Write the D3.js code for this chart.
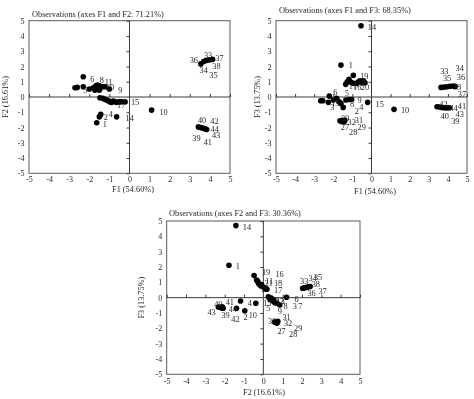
<!DOCTYPE html>
<html>
<head>
<meta charset="utf-8">
<script src="https://cdn.jsdelivr.net/npm/d3@7"></script>
<style>
  body { margin: 0; background: #fff; }
  svg { transform: translateZ(0); }
  svg text { font-family: "Liberation Serif", "DejaVu Serif", serif; fill: #231f20; -webkit-font-smoothing: antialiased; }
</style>
</head>
<body>
<svg id="chart" width="474" height="399"></svg>
<script>
// tick values shared by every axis
const ticks = [-5, -4, -3, -2, -1, 0, 1, 2, 3, 4, 5];

const titles = [
	'Observations (axes F1 and F2: 71.21%)',
	'Observations (axes F1 and F3: 68.35%)',
	'Observations (axes F2 and F3: 30.36%)',
];
const axisNames = ['F1 (54.60%)', 'F2 (16.61%)', 'F3 (13.75%)'];

// [label, F1, F2]
const obsF1F2 = [
	['6', -2.30, 1.33], ['3', -2.71, 0.60], ['7', -2.60, 0.63], ['5', -2.30, 0.67],
	['13', -2.00, 0.52], ['12', -1.80, 0.60], ['8', -1.67, 0.74], ['18', -1.60, 0.78],
	['16', -1.50, 0.74], ['19', -1.72, 0.45], ['11', -1.33, 0.67], ['20', -1.22, 0.67],
	['21', -1.50, 0.45], ['9', -1.00, 0.52],
	['22', -1.47, -0.05], ['23', -1.33, -0.09], ['24', -1.22, -0.16], ['25', -1.13, -0.20],
	['26', -1.05, -0.25], ['27', -0.97, -0.32], ['28', -0.89, -0.35], ['29', -0.81, -0.27],
	['30', -0.72, -0.32], ['31', -0.64, -0.35], ['17', -0.51, -0.32], ['32', -0.39, -0.32],
	['15', -0.22, -0.32],
	['4', -1.43, -1.14], ['2', -1.50, -1.30], ['1', -1.63, -1.69], ['14', -0.64, -1.30],
	['10', 1.10, -0.86],
	['36', 3.55, 2.17], ['34', 3.69, 2.33], ['33', 3.81, 2.39], ['35', 3.93, 2.42],
	['38', 4.03, 2.44], ['37', 4.13, 2.47],
	['39', 3.43, -1.96], ['40', 3.51, -2.00], ['41', 3.60, -2.02], ['42', 3.68, -2.05],
	['43', 3.76, -2.09], ['44', 3.84, -2.13],
];

// [label, F1, F3]
const obsF1F3 = [
	['1', -1.60, 2.09], ['14', -0.55, 4.67],
	['19', -0.95, 1.42], ['21', -1.18, 1.16], ['22', -1.27, 1.00], ['23', -1.35, 0.83],
	['24', -1.07, 0.96], ['25', -0.95, 0.89], ['17', -0.77, 0.89], ['16', -0.69, 1.00],
	['26', -0.60, 1.06], ['18', -0.43, 1.06], ['20', -0.34, 0.93], ['11', -0.51, 0.91],
	['12', -2.66, -0.25], ['7', -2.55, -0.25], ['6', -2.21, 0.06], ['3', -2.26, -0.35],
	['13', -2.00, -0.20], ['', -1.82, -0.09], ['', -1.70, -0.32], ['2', -1.60, -0.42],
	['4', -1.48, -0.68], ['5', -1.34, -0.20], ['8', -1.18, -0.16], ['9', -1.04, -0.16],
	['15', -0.20, -0.35], ['10', 1.18, -0.81],
	['27', -1.65, -1.56], ['32', -1.56, -1.60], ['28', -1.48, -1.56], ['31', -1.39, -1.52],
	['30', -1.54, -1.52], ['29', -1.44, -1.63],
	['35', 3.64, 0.63], ['33', 3.80, 0.65], ['34', 3.95, 0.67], ['36', 4.11, 0.70],
	['38', 4.27, 0.72], ['37', 4.37, 0.70],
	['40', 3.43, -0.64], ['42', 3.56, -0.66], ['39', 3.69, -0.68], ['44', 3.82, -0.70],
	['43', 3.95, -0.71], ['41', 4.08, -0.71],
];

// [label, F2, F3]
const obsF2F3 = [
	['14', -1.42, 4.70], ['1', -1.78, 2.11],
	['19', -0.48, 1.44], ['16', -0.35, 1.15], ['11', -0.27, 1.00], ['18', -0.22, 0.87],
	['21', -0.14, 0.78], ['17', -0.04, 0.72], ['22', 0.08, 0.61], ['20', 0.17, 0.55],
	['23', -0.31, 1.09], ['24', -0.10, 0.86],
	['15', 0.26, 0.05], ['5', 0.34, -0.10], ['7', 0.41, -0.02], ['13', 0.48, -0.20],
	['12', 0.54, -0.15], ['3', 0.59, -0.33], ['9', 0.71, -0.37], ['8', 0.85, -0.48],
	['6', 1.20, 0.03],
	['30', 0.59, -1.59], ['31', 0.75, -1.55], ['32', 0.71, -1.63], ['29', 0.65, -1.57],
	['27', 0.62, -1.62], ['28', 0.70, -1.65],
	['33', 2.03, 0.61], ['34', 2.11, 0.63], ['35', 2.18, 0.66], ['38', 2.26, 0.68],
	['36', 2.34, 0.71], ['37', 2.42, 0.73],
	['40', -2.33, -0.61], ['43', -2.25, -0.63], ['39', -2.16, -0.67], ['41', -2.13, -0.59],
	['44', -2.08, -0.69], ['42', -1.39, -0.69],
	['2', -1.18, -0.22], ['10', -0.96, -0.85], ['4', -0.39, -0.37],
];

// where each visible label sits relative to its dot, in px (others are hidden in the clutter)
const nudgeF1F2 = {
	6: [9, 2], 5: [2, 3.5], 8: [6, -6], 11: [6, -4.5], 20: [5, 0], 9: [11, 1],
	17: [2, 3], 15: [10, 0], 4: [10, -0.3], 2: [6.5, 0], 1: [8, 1.5], 14: [13, 1], 10: [12, 2],
	36: [-7, -4], 34: [0, 9], 33: [2, -5.5], 35: [5, 15], 38: [6, 6], 37: [7, -1],
	39: [-2, 11], 40: [2, -7], 41: [6, 14], 42: [11, -7], 43: [11, 6.5], 44: [8, 0],
};
const nudgeF1F3 = {
	1: [10, 0], 14: [11, 1], 19: [11, 1], 16: [-1, 5], 18: [-2, 0], 20: [0, 4], 17: [-4, 3],
	6: [6, -4], 5: [1, -7], 9: [8, 1], 8: [3, 5], 3: [4, 5], 13: [2, 3], 4: [18, 0], 2: [16, 8],
	15: [12, 2], 10: [11, 1],
	30: [3, -2.5], 27: [5, 6], 32: [10, 0.5], 31: [14, 0], 28: [10, 11], 29: [17.7, 5.6],
	35: [6, -9.6], 33: [0.3, -16], 34: [12.7, -19], 36: [11, -9.6], 38: [4, 1.3], 37: [7, 8],
	40: [7.7, 9], 42: [4, -2.5], 39: [13.3, 13.4], 44: [9.2, 0.8], 43: [12.7, 6.6], 41: [12.5, -1.7],
};
const nudgeF2F3 = {
	14: [11, 1.6], 1: [9, 1], 19: [12, -3], 16: [23, -5.7], 11: [11, -1], 18: [19, -1.6],
	21: [8, -3], 17: [15.6, 3.3], 20: [-1, 0],
	15: [-1, 6], 5: [-1.7, 9], 13: [8, 0], 12: [6, 0.7], 3: [20, 3], 7: [29, 7.7], 9: [2.7, 7.4],
	8: [5.7, 1], 6: [10, 1.7],
	30: [-2.7, -1], 31: [8.7, -4.8], 32: [11, 0.6], 29: [22.3, 6.6], 27: [6.2, 8.2], 28: [16.3, 11.3],
	33: [1.6, -7.6], 34: [8.5, -9.7], 35: [12.6, -10.3], 38: [8.8, -2.9], 36: [3, 6.5], 37: [12.5, 4.2],
	40: [0, -2.5], 43: [-8.3, 5], 39: [4, 7], 41: [7.7, -4.4], 44: [9.7, 0.7], 42: [-1, 10.7],
	2: [5, 15.7], 10: [8, 4.5], 4: [-6, 0],
};

const panels = [
	{
		title: titles[0], xName: axisNames[0], yName: axisNames[1], data: obsF1F2, nudge: nudgeF1F2,
		box: { x0: 29, x1: 230, y0: 20.7, y1: 173.3 },
		titleX: 32, titleY: 16.5, tickY: 181.5, xNameX: 133, xNameY: 192, yNameX: 7.5,
	}, {
		title: titles[1], xName: axisNames[0], yName: axisNames[2], data: obsF1F3, nudge: nudgeF1F3,
		box: { x0: 276, x1: 467, y0: 20.7, y1: 173.3 },
		titleX: 279, titleY: 13, tickY: 181.5, xNameX: 375, xNameY: 193.5, yNameX: 260,
	}, {
		title: titles[2], xName: axisNames[1], yName: axisNames[2], data: obsF2F3, nudge: nudgeF2F3,
		box: { x0: 166.7, x1: 360, y0: 221, y1: 374.3 },
		titleX: 169, titleY: 215.5, tickY: 384, xNameX: 264, xNameY: 395, yNameX: 144,
	},
];

const svg = d3.select('#chart');
const fmt = (d) => String(d);

panels.forEach((p) => {
	const { box } = p;
	const x = d3.scaleLinear().domain([-5, 5]).range([box.x0, box.x1]);
	const y = d3.scaleLinear().domain([-5, 5]).range([box.y1, box.y0]);
	const g = svg.append('g');

	g.append('rect')
		.attr('x', box.x0)
		.attr('y', box.y0)
		.attr('width', box.x1 - box.x0)
		.attr('height', box.y1 - box.y0)
		.attr('fill', 'none')
		.attr('stroke', '#5a5a5a')
		.attr('stroke-width', 1);

	// zero lines with their small ticks
	g.append('line')
		.attr('x1', box.x0).attr('x2', box.x1)
		.attr('y1', y(0)).attr('y2', y(0))
		.attr('stroke', '#3a3a3a');
	g.append('line')
		.attr('x1', x(0)).attr('x2', x(0))
		.attr('y1', box.y0).attr('y2', box.y1)
		.attr('stroke', '#3a3a3a');

	g.append('g')
		.attr('transform', `translate(0, ${ y(0) })`)
		.call(d3.axisTop(x).tickValues(ticks.filter((t) => t !== 0)).tickSize(3).tickFormat(''))
		.call((a) => a.select('.domain').remove())
		.selectAll('line').attr('stroke', '#3a3a3a');
	g.append('g')
		.attr('transform', `translate(${ x(0) }, 0)`)
		.call(d3.axisLeft(y).tickValues(ticks.filter((t) => t !== 0)).tickSize(3).tickFormat(''))
		.call((a) => a.select('.domain').remove())
		.selectAll('line').attr('stroke', '#3a3a3a');

	// tick labels outside the box
	const bottom = g.append('g')
		.attr('transform', `translate(0, ${ p.tickY })`)
		.call(d3.axisBottom(x).tickValues(ticks).tickSize(0).tickFormat(fmt))
		.attr('font-family', null)
		.attr('font-size', 8);
	bottom.select('.domain').remove();
	bottom.selectAll('text').attr('y', 0).attr('dy', null);

	const left = g.append('g')
		.attr('transform', `translate(${ box.x0 - 4.5 }, 0)`)
		.call(d3.axisLeft(y).tickValues(ticks).tickSize(0).tickPadding(0).tickFormat(fmt))
		.attr('font-family', null)
		.attr('font-size', 8);
	left.select('.domain').remove();

	// titles
	g.append('text')
		.attr('x', p.titleX)
		.attr('y', p.titleY)
		.attr('font-size', 8.3)
		.text(p.title);
	g.append('text')
		.attr('x', p.xNameX)
		.attr('y', p.xNameY)
		.attr('text-anchor', 'middle')
		.attr('font-size', 8.3)
		.text(p.xName);
	g.append('text')
		.attr('transform', `translate(${ p.yNameX }, ${ (box.y0 + box.y1) / 2 }) rotate(-90)`)
		.attr('text-anchor', 'middle')
		.attr('font-size', 8.3)
		.text(p.yName);

	// observations
	g.append('g')
		.selectAll('circle')
		.data(p.data)
		.join('circle')
			.attr('cx', (d) => x(d[1]))
			.attr('cy', (d) => y(d[2]))
			.attr('r', 2.8)
			.attr('fill', '#000');

	g.append('g')
		.selectAll('text')
		.data(p.data.filter((d) => p.nudge[d[0]]))
		.join('text')
			.attr('x', (d) => x(d[1]) + p.nudge[d[0]][0])
			.attr('y', (d) => y(d[2]) + p.nudge[d[0]][1])
			.attr('dy', '0.35em')
			.attr('text-anchor', 'middle')
			.attr('font-size', 8.3)
			.text((d) => d[0]);
});
</script>
</body>
</html>
